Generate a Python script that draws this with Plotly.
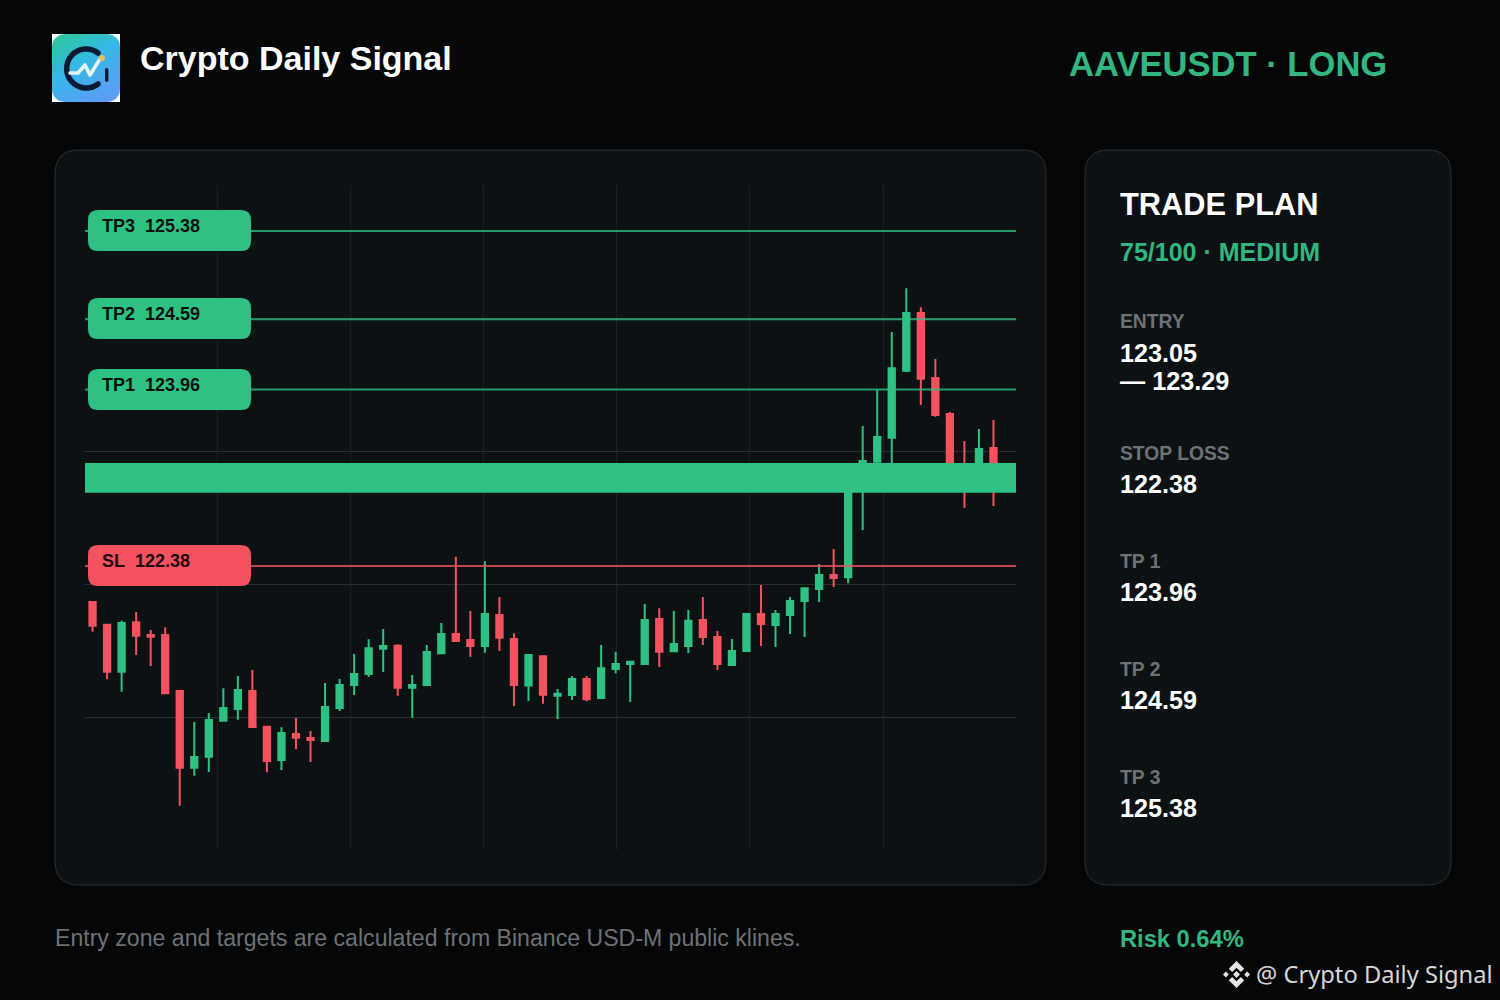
import base64
import plotly.graph_objects as go

W, H = 1500, 1000

# candles, oldest first
opens = [122.058, 121.855, 121.434, 121.876, 121.763, 121.763, 121.261, 120.574, 120.673, 120.995,
         121.100, 121.261, 120.941, 120.643, 120.876, 120.840, 120.813, 121.109, 121.315, 121.413,
         121.640, 121.667, 121.291, 121.315, 121.599, 121.772, 121.718, 121.664, 121.942, 121.727,
         121.309, 121.572, 121.219, 121.225, 121.369, 121.198, 121.458, 121.503, 121.503, 121.906,
         121.617, 121.664, 121.897, 121.745, 121.494, 121.619, 121.951, 121.852, 121.942, 122.067,
         122.175, 122.300, 122.279, 123.240, 123.314, 123.529, 124.129, 124.646, 124.064, 123.742,
         123.240, 123.151, 123.437]
highs = [122.058, 121.861, 121.891, 121.969, 121.807, 121.832, 121.261, 120.984, 121.061, 121.285,
         121.395, 121.449, 120.948, 120.936, 121.019, 120.903, 121.333, 121.369, 121.592, 121.724,
         121.816, 121.679, 121.404, 121.673, 121.870, 122.464, 121.977, 122.423, 122.103, 121.778,
         121.590, 121.572, 121.279, 121.395, 121.395, 121.673, 121.613, 121.527, 122.040, 122.002,
         121.977, 121.986, 122.103, 121.798, 121.727, 121.951, 122.210, 121.986, 122.103, 122.184,
         122.398, 122.533, 123.258, 123.634, 123.957, 124.476, 124.867, 124.697, 124.234, 123.760,
         123.500, 123.607, 123.688]
lows = [121.792, 121.366, 121.255, 121.583, 121.485, 121.232, 120.234, 120.503, 120.536, 120.995,
        121.004, 120.936, 120.533, 120.554, 120.739, 120.625, 120.813, 121.082, 121.225, 121.386,
        121.431, 121.219, 121.022, 121.309, 121.595, 121.703, 121.568, 121.604, 121.619, 121.127,
        121.171, 121.147, 121.010, 121.180, 121.169, 121.198, 121.420, 121.163, 121.503, 121.476,
        121.617, 121.601, 121.673, 121.449, 121.494, 121.613, 121.664, 121.655, 121.772, 121.745,
        122.058, 122.192, 122.226, 122.703, 123.303, 123.240, 124.118, 123.822, 123.717, 123.151,
        122.900, 123.106, 122.918]
closes = [121.846, 121.434, 121.870, 121.756, 121.747, 121.241, 120.574, 120.670, 121.001, 121.109,
          121.270, 120.939, 120.634, 120.885, 120.843, 120.822, 121.118, 121.315, 121.413, 121.643,
          121.664, 121.291, 121.315, 121.610, 121.772, 121.709, 121.664, 121.951, 121.738, 121.315,
          121.583, 121.228, 121.237, 121.369, 121.187, 121.464, 121.503, 121.523, 121.897, 121.613,
          121.682, 121.891, 121.745, 121.503, 121.619, 121.951, 121.861, 121.951, 122.067, 122.181,
          122.300, 122.273, 123.240, 123.321, 123.536, 124.151, 124.646, 124.058, 123.733, 123.195,
          123.151, 123.428, 123.195]

# levels of the trade plan
entry_low = 123.05
entry_high = 123.29
stop_loss = 122.38
tp1 = 123.96
tp2 = 124.59
tp3 = 125.38
levels = [("TP3", tp3), ("TP2", tp2), ("TP1", tp1), ("SL", stop_loss)]
plan_rows = [("ENTRY", ["123.05", "— 123.29"]), ("STOP LOSS", ["122.38"]), ("TP 1", ["123.96"]),
             ("TP 2", ["124.59"]), ("TP 3", ["125.38"])]
grid_prices = [124.60, 123.41, 122.215, 121.025]
grid_slots = [8.6, 17.76, 26.92, 36.08, 45.24, 54.4]

GREEN = "#2fc184"
TEXT_GREEN = "#33b680"
RED = "#f4525f"
BG = "#040608"
CARD = "#0c1214"
EDGE = "#263032"
GRAY = "#6e7274"
FONT = "Liberation Sans"

PLOT_L, PLOT_R, PLOT_T, PLOT_B = 85, 1016, 185, 850


def px(x):
    return x / W


def py(y):
    return 1 - y / H


# rounded box in page pixels, as a shape in paper coordinates
def round_box(x0, y0, x1, y1, r, fill, edge=None):
    pts = [("M", x0 + r, y0), ("L", x1 - r, y0), ("Q", x1, y0, x1, y0 + r), ("L", x1, y1 - r),
           ("Q", x1, y1, x1 - r, y1), ("L", x0 + r, y1), ("Q", x0, y1, x0, y1 - r), ("L", x0, y0 + r),
           ("Q", x0, y0, x0 + r, y0)]
    path = ""
    for p in pts:
        path += p[0]
        nums = p[1:]
        path += " ".join(f"{px(nums[i]):.5f},{py(nums[i + 1]):.5f}" for i in range(0, len(nums), 2)) + " "
    return dict(type="path", path=path + "Z", xref="paper", yref="paper", fillcolor=fill,
                line=dict(color=edge or fill, width=1 if edge else 0), layer="below")


# annotations carry about 2px of padding, taken off here
def label(x, y, text, size, color, bold=True, family=FONT):
    if bold:
        text = f"<b>{text}</b>"
    return dict(x=px(x - 2), y=py(y), xref="paper", yref="paper", text=text, showarrow=False,
                xanchor="left", yanchor="middle", align="left",
                font=dict(family=family, size=size, color=color))


def svg_uri(svg):
    return "data:image/svg+xml;base64," + base64.b64encode(svg.encode()).decode()


LOGO = """<svg xmlns="http://www.w3.org/2000/svg" viewBox="0 0 68 68">
<defs><linearGradient id="g" x1="0" y1="0" x2="0.6" y2="1">
<stop offset="0" stop-color="#2bc98f"/><stop offset="0.5" stop-color="#35b9e6"/><stop offset="1" stop-color="#5a9ff5"/>
</linearGradient></defs>
<rect width="68" height="68" fill="#fff"/><rect width="68" height="68" rx="13" fill="url(#g)"/>
<path d="M46 19 A19.500 19.500 0 1 0 46 50" fill="none" stroke="#0b1b33" stroke-width="5.5" stroke-linecap="round"/>
<path d="M18 39 H26 L33 31 L38 41 L48 25" fill="none" stroke="#e4f5f2" stroke-width="3.6" stroke-linejoin="round" stroke-linecap="round"/>
<circle cx="50" cy="24" r="3" fill="#f3b65a"/><rect x="53" y="34" width="3.4" height="14" rx="1.7" fill="#0b1b33"/>
</svg>"""

DIAMOND = """<svg xmlns="http://www.w3.org/2000/svg" viewBox="0 0 30 30">
<g fill="#e6e6e6"><path d="M15 1 L23 9 L19.5 12.5 L15 8 L10.500 12.500 L7 9 Z"/><path d="M15 29 L23 21 L19.5 17.5 L15 22 L10.5 17.5 L7 21 Z"/>
<path d="M15 11.500 L18.500 15 L15 18.500 L11.500 15 Z"/><path d="M1 15 L4 12 L7 15 L4 18 Z"/><path d="M29 15 L26 12 L23 15 L26 18 Z"/></g>
</svg>"""

fig = go.Figure(go.Candlestick(
    x=list(range(len(opens))), open=opens, high=highs, low=lows, close=closes,
    whiskerwidth=0,
    increasing=dict(line=dict(color=GREEN, width=2), fillcolor=GREEN),
    decreasing=dict(line=dict(color=RED, width=2), fillcolor=RED),
    hoverinfo="skip"))

shapes = [round_box(55, 150, 1046, 885, 24, CARD, EDGE),
          round_box(1085, 150, 1451, 885, 24, CARD, EDGE)]
annotations = []

# entry zone goes over the candles, as in the original
shapes.append(dict(type="rect", xref="x domain", yref="y", x0=0.0016, x1=0.9984, y0=entry_low, y1=entry_high,
                   fillcolor=GREEN, line=dict(color=GREEN, width=3), layer="above"))

for name, price in levels:
    col = RED if name == "SL" else GREEN
    shapes.append(dict(type="line", xref="x domain", yref="y", x0=0, x1=1, y0=price, y1=price,
                       line=dict(color=col, width=2), opacity=0.78, layer="above"))

# pills sit on their line
pill_tops = {"TP3": 210, "TP2": 298, "TP1": 369, "SL": 545}
for name, price in levels:
    col = RED if name == "SL" else GREEN
    top = pill_tops[name]
    s = round_box(88, top, 251, top + 41, 10, col)
    s["layer"] = "above"
    shapes.append(s)
    ink = "#22060a" if name == "SL" else "#07110c"
    annotations.append(label(102, top + 16, f"{name}\u00a0\u00a0{price:.2f}", 18, ink))

annotations.append(label(140, 58, "Crypto Daily Signal", 34, "#ffffff"))
annotations.append(label(1069, 64, "AAVEUSDT · LONG", 34.6, TEXT_GREEN))
annotations.append(label(1120, 204.5, "TRADE PLAN", 30.8, "#ffffff"))
annotations.append(label(1120, 252, "75/100 · MEDIUM", 25, TEXT_GREEN))

row_tops = [321.5, 453, 561, 669, 777]
for (head, vals), y in zip(plan_rows, row_tops):
    annotations.append(label(1120, y, head, 19.3, GRAY))
    for i, v in enumerate(vals):
        annotations.append(label(1120, round(y) + 31 + i * 27.500, v, 25.2, "#ffffff"))

annotations.append(label(55, 937.5, "Entry zone and targets are calculated from Binance USD-M public klines.",
                         23.1, GRAY, bold=False))
annotations.append(label(1120, 939, "Risk 0.64%", 23.7, TEXT_GREEN))
annotations.append(label(1256, 973.5, "@ Crypto Daily Signal", 23.7, "#d6d6d6", bold=False, family="Noto Sans"))

images = [
    dict(source=svg_uri(LOGO), xref="paper", yref="paper", x=px(52), y=py(34), sizex=68 / W, sizey=68 / H,
         xanchor="left", yanchor="top", sizing="stretch", layer="above"),
    dict(source=svg_uri(DIAMOND), xref="paper", yref="paper", x=px(1222), y=py(960), sizex=29 / W, sizey=29 / H,
         xanchor="left", yanchor="top", sizing="stretch", layer="above"),
]

fig.update_layout(
    width=W, height=H,
    margin=dict(l=0, r=0, t=0, b=0),
    paper_bgcolor=BG,
    plot_bgcolor="rgba(0,0,0,0)",
    showlegend=False,
    boxgap=0.38,
    shapes=shapes,
    annotations=annotations,
    images=images,
    xaxis=dict(domain=[px(PLOT_L), px(PLOT_R)], range=[-0.52, 63.55], rangeslider=dict(visible=False),
               tickvals=grid_slots, showticklabels=False, ticks="", showgrid=True, gridcolor="#1a2022",
               gridwidth=1, zeroline=False, showline=False),
    yaxis=dict(domain=[py(PLOT_B), py(PLOT_T)], range=[119.837, 125.792],
               tickvals=grid_prices, showticklabels=False, ticks="", showgrid=True, gridcolor="#2a3032",
               gridwidth=1, zeroline=False, showline=False),
)

fig.write_html("out.html", config={"displayModeBar": False}, post_script="document.body.style.margin='0';")
